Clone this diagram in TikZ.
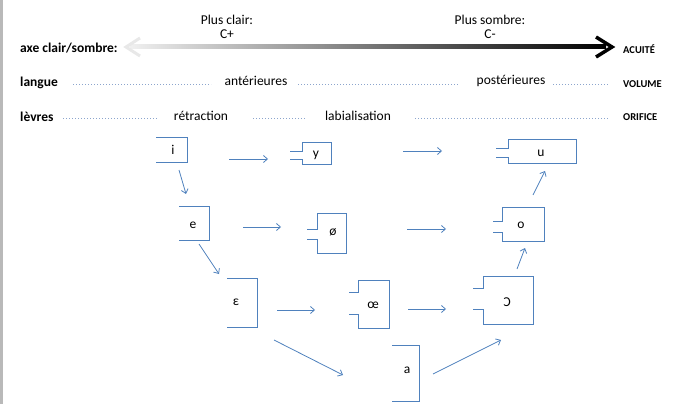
\documentclass[tikz,border=0pt]{standalone}
\usepackage{fontspec}
\setmainfont{Carlito}
\usetikzlibrary{arrows.meta}
\definecolor{lineblue}{RGB}{79,129,189}
\definecolor{dotblue}{RGB}{140,165,205}
\tikzset{
  vbox/.style={draw=lineblue, line width=0.9pt},
  conn/.style={draw=lineblue, line width=0.8pt, -{Straight Barb[length=4pt,width=7pt]}},
  dots/.style={draw=dotblue, line width=1pt, dash pattern=on 1pt off 2pt},
  lbl/.style={font=\fontsize{13.5}{15}\selectfont, inner sep=0pt},
  blbl/.style={font=\fontsize{13.5}{15}\selectfont\bfseries, inner sep=0pt, anchor=west},
  caps/.style={font=\fontsize{10.5}{12}\selectfont\bfseries, inner sep=0pt, anchor=west},
  vow/.style={font=\fontsize{13.5}{15}\selectfont, inner sep=0pt},
}
\begin{document}
\begin{tikzpicture}[x=1pt,y=-1pt]
\useasboundingbox (0,0) rectangle (680,404);
\fill[gray!55] (0,0) rectangle (2.5,404);
% header
\node[lbl] (pc) at (227,20) {Plus clair:};
\node[lbl] (cp) at (227,34) {C+};
\node[lbl] (ps) at (490,20) {Plus sombre:};
\node[lbl] (cm) at (490,34) {C-};
\node[blbl] (axe) at (20,48) {axe clair/sombre:};
\node[blbl] (lang) at (20,83) {langue};
\node[blbl] (lev) at (20,117) {lèvres};
\node[caps] (acu) at (623,49) {ACUITÉ};
\node[caps] (vol) at (623,84) {VOLUME};
\node[caps] (ori) at (623,117) {ORIFICE};
% gradient arrow
\shade[left color=gray!12, right color=black] (130,45) rectangle (606,49);
\coordinate (al) at (126,47);
\coordinate (ar) at (612,47);
\draw[gray!18, line width=3pt, line join=miter] ([shift={(14,-9)}]al) -- (al) -- ([shift={(14,9)}]al);
\draw[black, line width=3.5pt, line join=miter] ([shift={(-16,-10)}]ar) -- (ar) -- ([shift={(-16,10)}]ar);
% rows
\node[lbl] (ant) at (256,81) {antérieures};
\node[lbl] (post) at (511,81) {postérieures};
\draw[dots] (73,84) -- (211,84);
\draw[dots] (298,84) -- (458,84);
\draw[dots] (553,84) -- (608,84);
\node[lbl] (ret) at (201,116) {rétraction};
\node[lbl] (lab) at (358,116) {labialisation};
\draw[dots] (63,118) -- (157,118);
\draw[dots] (253,118) -- (305,118);
\draw[dots] (415,118) -- (608,118);
% boxes
\draw[vbox] (156,137) -- (187,137) -- (187,162) -- (156,162);
\node[vow] (i) at (173,150) {i};
\draw[vbox] (179,206) -- (209,206) -- (209,240) -- (179,240);
\node[vow] (e) at (193,225) {e};
\draw[vbox] (227,278) -- (257,278) -- (257,327) -- (227,327);
\node[vow] (eps) at (236,302) {ε};
\draw[vbox] (392,345) -- (419,345) -- (419,401) -- (392,401);
\node[vow] (a) at (407,370) {a};
\draw[vbox] (290,151) -- (302,151) -- (302,142) -- (331,142) -- (331,164) -- (302,164) -- (302,159) -- (290,159);
\node[vow] (y) at (316,155) {y};
\draw[vbox] (496,148) -- (508,148) -- (508,139) -- (576,139) -- (576,163) -- (508,163) -- (508,157) -- (496,157);
\node[vow] (u) at (541,153) {u};
\draw[vbox] (307,229) -- (317,229) -- (317,213) -- (346,213) -- (346,253) -- (317,253) -- (317,239) -- (307,239);
\node[vow] (oe) at (333,232) {ø};
\draw[vbox] (493,221) -- (502,221) -- (502,207) -- (544,207) -- (544,241) -- (502,241) -- (502,232) -- (493,232);
\node[vow] (o) at (521,225) {o};
\draw[vbox] (349,292) -- (358,292) -- (358,280) -- (389,280) -- (389,328) -- (358,328) -- (358,314) -- (349,314);
\node[vow] (oel) at (373,305) {œ};
\draw[vbox] (473,288) -- (483,288) -- (483,276) -- (533,276) -- (533,324) -- (483,324) -- (483,309) -- (473,309);
\node[vow] (oo) at (507,302) {Ɔ};
% connector endpoints
\coordinate (c1a) at (179,170); \coordinate (c1b) at (186,194);
\coordinate (c2a) at (229,159); \coordinate (c2b) at (268,159);
\coordinate (c3a) at (403,151); \coordinate (c3b) at (442,151);
\coordinate (c4a) at (243,227); \coordinate (c4b) at (281,227);
\coordinate (c5a) at (407,229); \coordinate (c5b) at (446,229);
\coordinate (c6a) at (199,244); \coordinate (c6b) at (219,274);
\coordinate (c7a) at (277,310); \coordinate (c7b) at (315,310);
\coordinate (c8a) at (408,309); \coordinate (c8b) at (446,309);
\coordinate (c9a) at (517,269); \coordinate (c9b) at (525,248);
\coordinate (c10a) at (533,195); \coordinate (c10b) at (545,171);
\coordinate (c11a) at (274,340); \coordinate (c11b) at (343,375);
\coordinate (c12a) at (433,374); \coordinate (c12b) at (501,340);
\foreach \k in {1,...,12} {\draw[conn] (c\k a) -- (c\k b);}
\end{tikzpicture}
\end{document}
